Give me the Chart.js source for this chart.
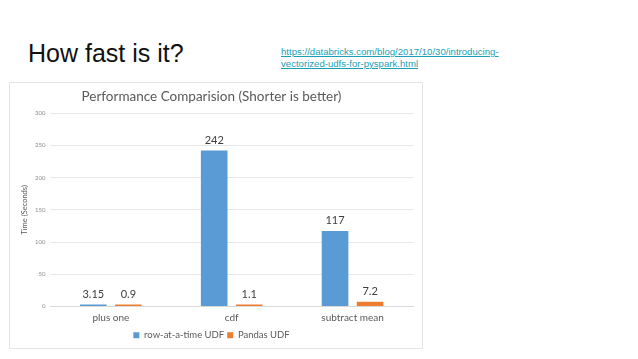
<!DOCTYPE html>
<html>
<head>
<meta charset="utf-8">
<script src="https://cdn.jsdelivr.net/npm/chart.js@4/dist/chart.umd.min.js"></script>
<style>
  body { margin: 0; background: #fff; width: 638px; height: 359px; position: relative; overflow: hidden; font-family: "Liberation Sans", Arial, sans-serif; }
  #heading { position: absolute; left: 28px; top: 39px; font-size: 25px; color: #111; }
  #link { position: absolute; left: 281px; top: 46px; font-size: 9.6px; line-height: 11.5px; color: #1b9fb5; text-decoration: underline; }
  #box { position: absolute; left: 9px; top: 82px; width: 412px; height: 265px; border: 1px solid #e4e4e4; }
</style>
</head>
<body>
<div id="heading">How fast is it?</div>
<div id="link">https://databricks.com/blog/2017/10/30/introducing-<br>vectorized-udfs-for-pyspark.html</div>
<div id="box"><canvas id="chart1"></canvas></div>
<script>
const categories = ['plus one', 'cdf', 'subtract mean'];
const rowAtATime = [3.15, 242, 117];
const pandasUdf = [0.9, 1.1, 7.2];
const yTicks = [0, 50, 100, 150, 200, 250, 300];

const FONT = 'Lato, sans-serif';

const valueLabels = {
    id: 'valueLabels',
    afterDatasetsDraw(chart) {
        const ctx = chart.ctx;
        ctx.save();
        ctx.font = '11px ' + FONT;
        ctx.fillStyle = '#404040';
        ctx.textAlign = 'center';
        ctx.textBaseline = 'bottom';
        chart.data.datasets.forEach((ds, i) => {
            chart.getDatasetMeta(i).data.forEach((bar, j) => {
                ctx.fillText(String(ds.data[j]), bar.x, bar.y - 5);
            });
        });
        ctx.restore();
    }
};

window.addEventListener('load', () => {
    new Chart('chart1', {
        type: 'bar',
        data: {
            labels: categories,
            datasets: [
                { label: 'row-at-a-time UDF', data: rowAtATime, backgroundColor: '#5b9bd5' },
                { label: 'Pandas UDF', data: pandasUdf, backgroundColor: '#ed7d31' }
            ]
        },
        options: {
            responsive: true,
            maintainAspectRatio: false,
            animation: false,
            layout: { padding: { left: 0, right: 9, top: 2, bottom: -2 } },
            datasets: { bar: { categoryPercentage: 0.58, barPercentage: 0.76, minBarLength: 2 } },
            plugins: {
                title: {
                    display: true,
                    text: 'Performance Comparision (Shorter is better)',
                    color: '#595959',
                    font: { family: FONT, size: 13.5, weight: 'normal' },
                    padding: { top: 4, bottom: 8 }
                },
                legend: {
                    position: 'bottom',
                    labels: {
                        color: '#595959',
                        font: { family: FONT, size: 9.5 },
                        boxWidth: 6, boxHeight: 6, padding: 3
                    }
                },
                tooltip: { enabled: false }
            },
            scales: {
                x: {
                    grid: { display: false },
                    border: { color: '#d9d9d9' },
                    ticks: { color: '#595959', padding: -3, font: { family: FONT, size: 10 } },
                    afterFit: axis => { axis.height += 7; }
                },
                y: {
                    min: 0, max: 300,
                    afterBuildTicks: axis => { axis.ticks = yTicks.map(v => ({ value: v })); },
                    grid: { color: '#e6e6e6', drawTicks: false },
                    border: { display: false },
                    ticks: { color: '#8c8c8c', padding: 5, font: { family: FONT, size: 6 } },
                    title: {
                        display: true, text: 'Time (Seconds)', color: '#595959',
                        font: { family: FONT, size: 7.5 }, padding: { top: 10, bottom: 1 }
                    }
                }
            }
        },
        plugins: [valueLabels]
    });
});
</script>
</body>
</html>
